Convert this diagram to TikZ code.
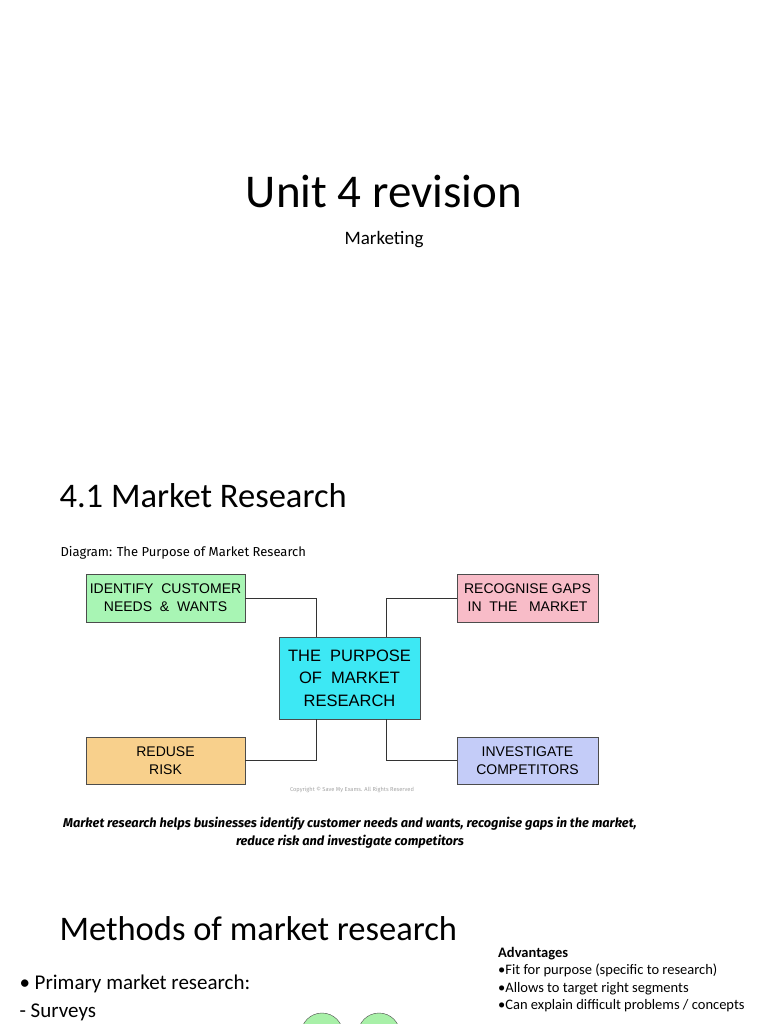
\documentclass[tikz,border=0pt]{standalone}
\usepackage{fontspec}
\setmainfont{Carlito}
\newfontfamily\boxfont{Liberation Sans}
\newfontfamily\capfont{Fira Sans}
\definecolor{needsGreen}{HTML}{A8F5B4}
\definecolor{gapsPink}{HTML}{F8BCC8}
\definecolor{midCyan}{HTML}{3DE8F4}
\definecolor{riskOrange}{HTML}{F8D08C}
\definecolor{rivalBlue}{HTML}{C4CCF8}
\definecolor{dotGreen}{HTML}{A8F0A8}
\tikzset{
    box/.style={draw=black!70, line width=0.8pt, align=center, inner sep=0pt,
        font=\boxfont\fontsize{14}{18}\selectfont},
    link/.style={draw=black!80, line width=0.8pt}
}
\begin{document}
\begin{tikzpicture}[x=1pt,y=-1pt]
    \useasboundingbox[fill=white] (0,0) rectangle (768,1024);

    %title slide:
    \node[font=\fontsize{47}{56}\selectfont] (title) at (384,192) {Unit 4 revision};
    \node[font=\fontsize{19}{22}\selectfont] (subtitle) at (384,240) {Marketing};

    %market research slide:
    \node[anchor=west, font=\fontsize{34.5}{40}\selectfont] (head) at (56,496) {4.1 Market Research};
    \node[anchor=west, font=\capfont\fontsize{13}{15}\selectfont] (diaglabel) at (57,553)
        {Diagram: The Purpose of Market Research};

    \node[box, fill=needsGreen, minimum width=159pt, minimum height=48pt] (needs) at (165.5,598)
        {IDENTIFY\ \ CUSTOMER\\NEEDS \ \& \ WANTS};
    \node[box, fill=gapsPink, minimum width=141pt, minimum height=48pt] (gaps) at (527.5,598)
        {RECOGNISE GAPS\\IN \ THE \ \ MARKET};
    \node[box, fill=midCyan, minimum width=141pt, minimum height=82pt,
        font=\boxfont\fontsize{16.5}{22.5}\selectfont] (purpose) at (349.5,678)
        {THE \ PURPOSE\\OF \ MARKET\\RESEARCH};
    \node[box, fill=riskOrange, minimum width=159pt, minimum height=47pt] (risk) at (165.5,760.5)
        {REDUSE\\RISK};
    \node[box, fill=rivalBlue, minimum width=141pt, minimum height=47pt] (rivals) at (527.5,760.5)
        {INVESTIGATE\\COMPETITORS};

    \draw[link] (needs.east) -| ([xshift=-33.5pt]purpose.north);
    \draw[link] (gaps.west) -| ([xshift=36.5pt]purpose.north);
    \draw[link] (risk.east) -| ([xshift=-33.5pt]purpose.south);
    \draw[link] (rivals.west) -| ([xshift=36.5pt]purpose.south);

    \node[text=black!35, font=\capfont\fontsize{5.7}{7}\selectfont] (copy) at (352,790)
        {Copyright \textcopyright\ Save My Exams. All Rights Reserved};
    \node[align=center, font=\capfont\bfseries\itshape\fontsize{12.8}{18}\selectfont] (caption) at (350,833)
        {Market research helps businesses identify customer needs and wants, recognise gaps in the market,\\
        reduce risk and investigate competitors};

    %methods slide:
    \node[anchor=west, font=\fontsize{34.5}{40}\selectfont] (methods) at (56,929) {Methods of market research};
    \node[anchor=west, font=\fontsize{21}{25}\selectfont] (primary) at (16,984) {\textbullet\ Primary market research:};
    \node[anchor=west, font=\fontsize{21}{25}\selectfont] (surveys) at (16,1012) {- Surveys};
    \node[anchor=north west, align=left, inner sep=0pt, font=\fontsize{14.5}{17.5}\selectfont] (pros) at (498,947)
        {\textbf{Advantages}\\
        \textbullet Fit for purpose (specific to research)\\
        \textbullet Allows to target right segments\\
        \textbullet Can explain difficult problems / concepts};

    \begin{scope}
        \clip (0,0) rectangle (768,1024);
        \node[circle, draw=black!70, fill=dotGreen, minimum size=42pt] (dotA) at (322,1034) {};
        \node[circle, draw=black!70, fill=dotGreen, minimum size=42pt] (dotB) at (379,1034) {};
    \end{scope}
\end{tikzpicture}
\end{document}
